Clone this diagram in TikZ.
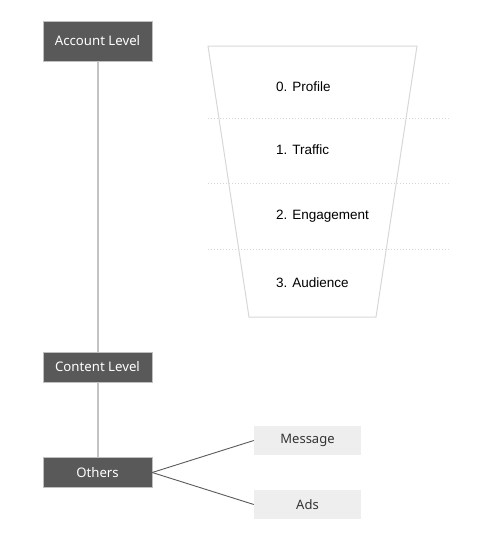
\documentclass[tikz,border=0pt]{standalone}
\usepackage{fontspec}
\setmainfont{Liberation Sans}
\newfontfamily\boxfont{Noto Sans}
\begin{document}
\begin{tikzpicture}[x=1pt, y=-1pt,
    level/.style={fill=level-gray, draw=gray!50, text=white, font=\boxfont\fontsize{13.2}{15}\selectfont,
      minimum width=109pt, minimum height=30pt, inner sep=0pt},
    channel/.style={fill=channel-gray, text=black!80, font=\boxfont\fontsize{13}{15}\selectfont,
      minimum width=107pt, minimum height=29pt, inner sep=0pt},
    stage/.style={anchor=west, font=\fontsize{13.5}{16}\selectfont, text=black, inner sep=0pt}]
    \definecolor{level-gray}{RGB}{89,89,89}
    \definecolor{channel-gray}{RGB}{238,238,238}
    \definecolor{funnel-gray}{RGB}{215,215,215}
    \definecolor{stem-gray}{RGB}{195,195,195}
    \useasboundingbox (0,0) rectangle (486,544);
    % levels on the left
    \node[level, minimum height=40pt] (account) at (97.5,41) {Account Level};
    \node[level] (content) at (97.5,367) {Content Level};
    \node[level] (others) at (97.5,472.5) {Others};
    \draw[stem-gray, line width=2pt] (account) -- (content);
    \draw[stem-gray, line width=2pt] (content) -- (others);
    % channels
    \node[channel] (message) at (307.5,440.5) {Message};
    \node[channel] (ads) at (307.5,504.5) {Ads};
    \draw[black!65, line width=0.9pt] (others.east) -- (message.west);
    \draw[black!65, line width=0.9pt] (others.east) -- (ads.west);
    % funnel
    \draw[funnel-gray, line width=1pt] (208,46) -- (417,46) -- (376,317) -- (249,317) -- cycle;
    \draw[funnel-gray, line width=1pt, dotted] (208,118) -- (450,118);
    \draw[funnel-gray, line width=1pt, dotted] (208,183) -- (450,183);
    \draw[funnel-gray, line width=1pt, dotted] (208,249) -- (450,249);
    \node[stage] (profile) at (276,87) {0. Profile};
    \node[stage] (traffic) at (276,150) {1. Traffic};
    \node[stage] (engagement) at (276,216) {2. Engagement};
    \node[stage] (audience) at (276,283) {3. Audience};
  \end{tikzpicture}
\end{document}
